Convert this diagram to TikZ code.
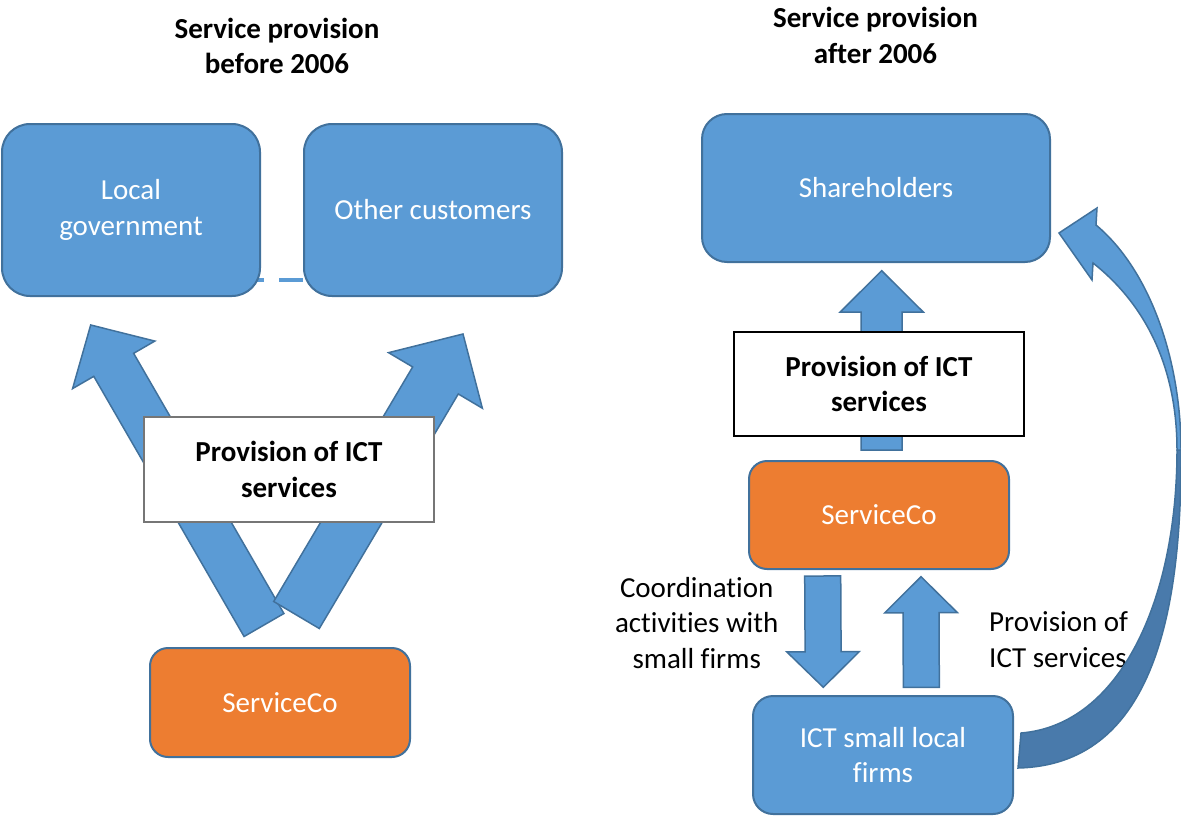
\documentclass[tikz,border=0pt]{standalone}
\usepackage{fontspec}
\setmainfont{Carlito}[Ligatures=NoCommon]
\usetikzlibrary{calc}
\definecolor{boxblue}{HTML}{5B9BD5}
\definecolor{edgeblue}{HTML}{41719C}
\definecolor{orangefill}{HTML}{ED7D31}
\definecolor{darkband}{RGB}{73,122,171}
\definecolor{grayedge}{HTML}{767676}
\newcommand{\bodyfont}{\fontsize{29}{35.5}\selectfont}
\newcommand{\blockarr}[5]{%
  \coordinate (ba-h) at ($(#2)!#5!(#1)$);
  \draw[blockarrow] ($(#1)!#3!90:(#2)$) -- ($(ba-h)!#3!90:(#2)$) -- ($(ba-h)!#4!90:(#2)$) -- (#2)
    -- ($(ba-h)!#4!-90:(#2)$) -- ($(ba-h)!#3!-90:(#2)$) -- ($(#1)!#3!-90:(#2)$) -- cycle;
}
\tikzset{
  bluebox/.style={rectangle, fill=boxblue, draw=edgeblue, line width=2pt, text=white,
    align=center, inner sep=0pt, font=\bodyfont},
  orangebox/.style={bluebox, fill=orangefill},
  labelbox/.style={rectangle, fill=white, line width=2pt, text=black, align=center,
    inner sep=0pt, font=\bodyfont\bfseries, minimum width=290pt, minimum height=105pt},
  titletext/.style={align=center, inner sep=0pt, font=\bodyfont\bfseries},
  plaintext/.style={inner sep=0pt, font=\bodyfont},
  blockarrow/.style={fill=boxblue, draw=edgeblue, line width=1.5pt},
  dashconn/.style={draw=boxblue, line width=4pt, dash pattern=on 24pt off 15pt},
  bandlight/.style={fill=boxblue, draw=edgeblue, line width=1.5pt},
  banddark/.style={fill=darkband, draw=edgeblue, line width=1.5pt},
}
\begin{document}
\begin{tikzpicture}[x=1pt,y=-1pt]
\useasboundingbox (0,0) rectangle (1181,816);
% titles
\node[titletext] (titleL) at (277,46) {Service provision\\before 2006};
\node[titletext] (titleR) at (875.5,35.5) {Service provision\\after 2006};

% ---------- left part ----------
\coordinate (d1) at (240,280);
\coordinate (d2) at (330,280);
\draw[dashconn] (d1) -- (d2);
\node[bluebox, rounded corners=28pt, minimum width=258pt, minimum height=172pt] (lg) at (131,210) {Local\\government};
\node[bluebox, rounded corners=28pt, minimum width=258pt, minimum height=172pt] (oc) at (433,210) {Other customers};

\coordinate (a1tail) at (264,625);
\coordinate (a1tip) at (90.7,325);
\coordinate (a2tail) at (296.5,615);
\coordinate (a2tip) at (463,334);
\blockarr{a1tail}{a1tip}{23pt}{47.5pt}{46pt}
\blockarr{a2tail}{a2tip}{26.5pt}{54.5pt}{54pt}

\node[labelbox, draw=grayedge] (provL) at (289,469.5) {Provision of ICT\\services};
\node[orangebox, rounded corners=18pt, minimum width=260pt, minimum height=109pt] (scL) at (280,702.5) {ServiceCo};

% ---------- right part ----------
\coordinate (a3tail) at (881.7,450);
\coordinate (a3tip) at (881.7,270.7);
\blockarr{a3tail}{a3tip}{20.5pt}{41.5pt}{41.3pt}

\node[bluebox, rounded corners=25pt, minimum width=348pt, minimum height=148pt] (sh) at (876,188) {Shareholders};
\node[labelbox, draw=black, minimum height=104pt] (provR) at (879,384) {Provision of ICT\\services};
\node[orangebox, rounded corners=18pt, minimum width=260pt, minimum height=108pt] (scR) at (879,515) {ServiceCo};
\node[bluebox, rounded corners=20pt, minimum width=260pt, minimum height=118pt] (ict) at (883,755) {ICT small local\\firms};

\coordinate (a4tail) at (822.7,576);
\coordinate (a4tip) at (823.3,687.3);
\blockarr{a4tail}{a4tip}{18pt}{36.3pt}{35.6pt}
\coordinate (a5tail) at (921.3,687.3);
\coordinate (a5tip) at (921,576.7);
\blockarr{a5tail}{a5tip}{18pt}{36.3pt}{36pt}

\node[plaintext, align=center] (coord) at (696.7,623) {Coordination\\activities with\\small firms};
\node[plaintext, align=left, anchor=west] (provtxt) at (989,639.5) {Provision of\\ICT services};

% curved arrow from ICT firms to shareholders
\draw[banddark] (1181,450) .. controls (1182,620) and (1150,765) .. (1018,768)
  -- (1021,733) .. controls (1120,725) and (1177,600) .. (1177,450) -- cycle;
\draw[bandlight] (1177,450) .. controls (1177,360) and (1140,300) .. (1093,263)
  -- (1092,280) -- (1059,233) -- (1097,208) -- (1096,225)
  .. controls (1150,270) and (1181,360) .. (1181,450) -- cycle;
\end{tikzpicture}
\end{document}
